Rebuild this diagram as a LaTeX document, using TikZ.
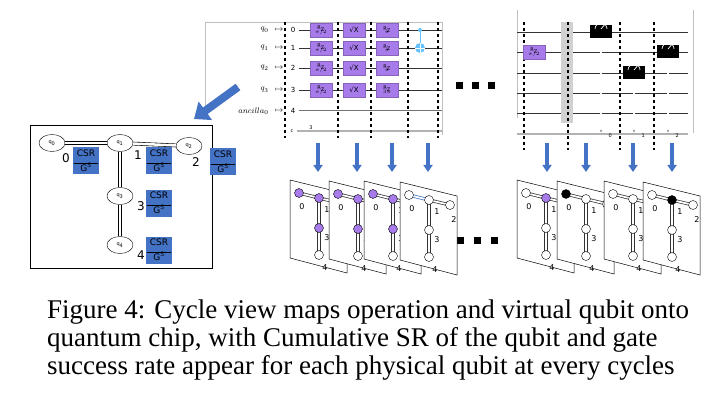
\documentclass[tikz,border=0pt]{standalone}
\usepackage{fontspec}
\setmainfont{Liberation Serif}
\newfontfamily\dsans{DejaVu Sans}
\usetikzlibrary{shapes.geometric,arrows.meta}
\definecolor{gblue}{HTML}{4472C4}
\definecolor{gpur}{HTML}{A77BEA}
\tikzset{
 wire/.style={black!80,line width=0.6pt},
 barrier/.style={black,line width=1.2pt,dash pattern=on 3pt off 3pt},
 gate/.style={draw=gpur!80!black,fill=gpur,minimum width=22pt,minimum height=14pt,inner sep=0pt,font=\dsans\fontsize{5}{5}\selectfont,align=center},
 meas/.style={fill=black,minimum width=22pt,minimum height=13pt,inner sep=0pt},
 cq/.style={ellipse,draw,fill=white,minimum width=26pt,minimum height=17pt,inner sep=0pt,font=\dsans\tiny},
 csr/.style={fill=gblue,minimum width=26pt,minimum height=27pt,inner sep=0pt,align=center,font=\dsans\small,text=black},
 dbl/.style={double=white,draw=black,double distance=2.5pt,line width=0.6pt},
 sdbl/.style={double=white,draw=black!80,double distance=1.8pt,line width=0.7pt},
 barrow/.style={-{Triangle[width=9pt,length=7pt]},gblue,line width=3.5pt},
 sq/.style={circle,draw,fill=white,minimum size=9pt,inner sep=0pt,line width=0.4pt},
 pq/.style={sq,fill=gpur},
 kq/.style={sq,fill=black},
 blk/.style={fill=black,minimum size=7pt,inner sep=0pt},
 lab/.style={font=\dsans\fontsize{8}{8}\selectfont},
 pics/chip/.style n args={4}{code={
   \draw[fill=white,line width=0.5pt] (0,0) -- (57,14) -- (57,93) -- (0,78) -- cycle;
   \coordinate (-ca) at (9,13);
   \coordinate (-cb) at (29,18);
   \coordinate (-cc) at (50,23);
   \coordinate (-cd) at (29,48);
   \coordinate (-ce) at (29,75);
   \draw[sdbl,#4] (-ca) -- (-cb);
   \draw[sdbl] (-cb) -- (-cc);
   \draw[sdbl] (-cb) -- (-cd);
   \draw[sdbl] (-cd) -- (-ce);
   \node[#1] (-qa) at (-ca) {};
   \node[#2] (-qb) at (-cb) {};
   \node[sq] (-qc) at (-cc) {};
   \node[#3] (-qd) at (-cd) {};
   \node[sq] (-qe) at (-ce) {};
   \node[lab] at (12,27) {0};
   \node[lab] at (37,30) {1};
   \node[lab] at (54,38) {2};
   \node[lab] at (37,58) {3};
   \node[lab] at (35,88) {4};
 }}
}
\begin{document}
\begin{tikzpicture}[x=1pt,y=-1pt]
\useasboundingbox[fill=white] (0,0) rectangle (722,414);
% ---------- left circuit
\draw[black!25] (205,110) -- (205,22) -- (442,22) -- (442,135);
\foreach \y/\n/\l [count=\i from 0] in {30/0/q_0,48/1/q_1,68/2/q_2,90/3/q_3}{
  \node[font=\footnotesize,anchor=east] (lq\i) at (272,\y) {$\l$};
  \node[font=\dsans\scriptsize] (ln\i) at (293,\y) {\n};
  \node[font=\footnotesize] at (279,\y) {$\mapsto$};
  \draw[wire] (ln\i.east) -- (442,\y);
}
\node[font=\footnotesize,anchor=east] (la) at (272,111) {$ancilla_0$};
\node[font=\footnotesize] at (279,111) {$\mapsto$};
\node[font=\dsans\scriptsize] (ln4) at (293,111) {4};
\draw[black!55,line width=1pt] (ln4.east) -- (442,111);
\node[font=\dsans\tiny] (lc) at (292,131) {c};
\draw[black!30,line width=1.5pt] (lc.east) -- (442,131);
\node[font=\dsans\tiny] at (311,128) {3};
\foreach \x in {285,338,371,408,438}{\draw[barrier] (\x,22) -- (\x,138);}
\foreach \y/\a in {30/\pi/2,48/\pi/2,68/\pi/2,90/3\pi/2}{
  \node[gate] at (321,\y) {R\textsubscript{Z}\\[-2.5pt]{\fontsize{3}{3}\selectfont$\pi/2$}};
  \node[gate,font=\dsans\fontsize{7}{7}\selectfont] at (354,\y) {√X};
  \node[gate] at (387,\y) {R\textsubscript{Z}\\[-2.5pt]{\fontsize{3}{3}\selectfont$\a$}};
}
\node[circle,fill=blue!40!cyan!60,minimum size=4pt,inner sep=0pt] (ctl) at (420,30) {};
\node[circle,fill=blue!40!cyan!60,minimum size=10pt,inner sep=0pt] (tgt) at (420,48) {};
\draw[blue!40!cyan!60,line width=1pt] (ctl) -- (tgt);
\draw[white,line width=0.8pt] (tgt.north) -- (tgt.south) (tgt.west) -- (tgt.east);
% ---------- ellipsis squares
\foreach \x [count=\i] in {459,475,491}{\node[blk] (ta\i) at (\x,86) {};}
\foreach \x [count=\i] in {460,477,494}{\node[blk] (tb\i) at (\x,240) {};}
% ---------- right circuit
\draw[black!25] (517,118) -- (517,10) (693,10) -- (693,133);
\foreach \y [count=\i] in {32,52,73,93,113}{\draw[wire] (517,\y) -- (688,\y);}
\draw[black!30,line width=1.5pt] (517,134) -- (688,134);
\fill[black!18] (561,22) rectangle (573,123);
\foreach \x in {524,568,620,654}{\draw[barrier] (\x,22) -- (\x,150);}
\node[gate] at (534,52) {R\textsubscript{Z}\\[-2.5pt]{\fontsize{3}{3}\selectfont$\pi/2$}};
\node[meas] (m0) at (601,32) {};
\node[meas] (m1) at (668,52) {};
\node[meas] (m2) at (634,73) {};
\foreach \m/\l in {m0/0,m2/1,m1/2}{
  \coordinate (e\m) at (\m |- 0,133);
  \draw[black!40,double=white,double distance=1.2pt,line width=0.5pt,-{Latex[length=3pt]}] (\m.south) -- (e\m);
  \node[font=\dsans\tiny,anchor=west] at ([xshift=4pt,yshift=-3pt]e\m) {\l};
  \draw[white,line width=0.7pt] ([xshift=-6pt,yshift=3pt]\m.center) arc[start angle=180,end angle=0,radius=6pt];
  \draw[white,line width=0.7pt] ([yshift=3pt]\m.center) -- ++(5,-6);
}
% ---------- big arrow
\coordinate (ba) at (238,87);
\coordinate (bb) at (194,119);
\draw[-{Triangle[width=22pt,length=14pt]},gblue,line width=8pt] (ba) -- (bb);
% ---------- chip box
\draw[line width=0.8pt] (30,125) rectangle (212,268);
\node[cq] (q0) at (52,143) {q\textsubscript{0}};
\node[cq] (q1) at (120,143) {q\textsubscript{1}};
\node[cq] (q2) at (189,146) {q\textsubscript{2}};
\node[cq] (q3) at (120,196) {q\textsubscript{3}};
\node[cq] (q4) at (120,245) {q\textsubscript{4}};
\draw[dbl] (q0) -- (q1);
\draw[dbl] (q1) -- (q2);
\draw[dbl] (q1) -- (q3);
\draw[dbl] (q3) -- (q4);
\node[font=\dsans\large] at (66,158) {0};
\node[font=\dsans\large] at (138,155) {1};
\node[font=\dsans\large] at (196,162) {2};
\node[font=\dsans\large] at (141,206) {3};
\node[font=\dsans\large] at (141,255) {4};
\foreach \p/\n in {{(86,161)}/c0,{(159,161)}/c1,{(223,162)}/c2,{(159,203)}/c3,{(159,250)}/c4}{
  \node[csr] (\n) at \p {CSR\\[-4pt]\rule{24pt}{0.5pt}\\[-3pt]G\textsuperscript{S}};
}
% ---------- pages
\pic (p1) at (290,180) {chip={pq}{pq}{pq}{}};
\pic (p2) at (329,181) {chip={pq}{pq}{pq}{}};
\pic (p3) at (364,181) {chip={pq}{pq}{pq}{}};
\pic (p4) at (400,182) {chip={sq}{sq}{sq}{draw=gblue}};
\pic (p5) at (517,180) {chip={sq}{pq}{sq}{}};
\pic (p6) at (557,181) {chip={kq}{sq}{sq}{}};
\pic (p7) at (604,181) {chip={sq}{sq}{sq}{}};
\pic (p8) at (643,182) {chip={sq}{kq}{sq}{}};
% ---------- small arrows
\foreach \x [count=\i] in {318,357,392,428,547,586,633,672}{
  \coordinate (sa\i) at (\x,143);
  \coordinate (sb\i) at (\x,172);
  \draw[barrow] (sa\i) -- (sb\i);
}
% ---------- caption
\node[anchor=north west,align=left,font=\fontsize{27}{28}\selectfont,inner sep=0pt] (cap) at (47,300)
{Figure 4: Cycle view maps operation and virtual qubit onto\\
quantum chip, with Cumulative SR of the qubit and gate\\
success rate appear for each physical qubit at every cycles};
\end{tikzpicture}
\end{document}
